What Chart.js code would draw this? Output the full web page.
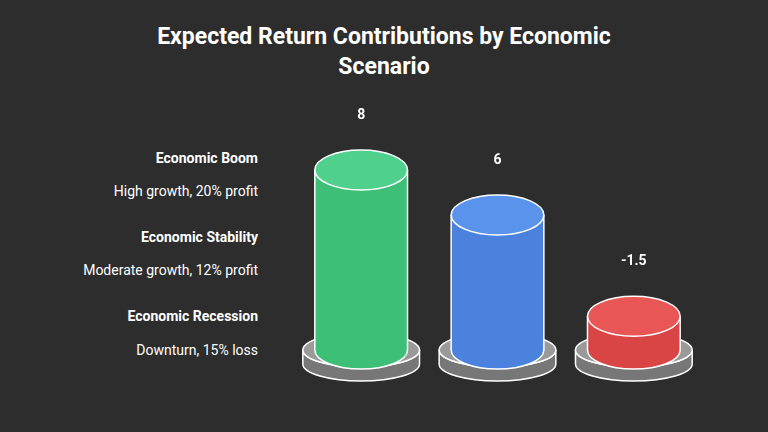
<!DOCTYPE html>
<html lang="en">
<head>
<meta charset="UTF-8">
<title>Expected Return Contributions</title>
<style>
  body { margin: 0; background: #2d2d2d; font-family: Roboto, sans-serif; }
  .wrap { position: relative; width: 768px; height: 432px; }
  h1 { position: absolute; top: 22px; left: 0; width: 768px; margin: 0; text-align: center;
       color: #fff; font-size: 23px; font-weight: 700; line-height: 30px; }
  .side { position: absolute; right: 510px; text-align: right; color: #fff; font-size: 14px; white-space: nowrap; }
  .side b { font-weight: 700; }
  canvas { position: absolute; left: 0; top: 0; }
</style>
</head>
<body>
<div class="wrap">
  <h1>Expected Return Contributions by Economic<br>Scenario</h1>
  <div class="side" style="top:150px"><b>Economic Boom</b></div>
  <div class="side" style="top:183px">High growth, 20% profit</div>
  <div class="side" style="top:229px"><b>Economic Stability</b></div>
  <div class="side" style="top:262px">Moderate growth, 12% profit</div>
  <div class="side" style="top:308px"><b>Economic Recession</b></div>
  <div class="side" style="top:342px">Downturn, 15% loss</div>
  <canvas id="c" width="768" height="432"></canvas>
</div>
<script src="https://cdn.jsdelivr.net/npm/chart.js@4.4.0/dist/chart.umd.min.js"></script>
<script>
const scenarios = ['Economic Boom', 'Economic Stability', 'Economic Recession'];
const contributions = [8, 6, -1.5];
const sideColors = ['#3dbf78', '#4a82de', '#d94444'];
const topColors = ['#4fd08c', '#5a93ec', '#e85656'];

const cylinders = {
  id: 'cylinders',
  beforeDatasetsDraw(chart) {
    const ctx = chart.ctx;
    chart.getDatasetMeta(0).data.forEach((bar, i) => {
      const rx = bar.width / 2, ry = 19, base = bar.base;
      // gray pedestal
      const prx = rx + 12, pry = 17;
      ctx.save();
      ctx.strokeStyle = '#ffffff'; ctx.lineWidth = 1.5;
      ctx.fillStyle = '#777777';
      ctx.beginPath();
      ctx.ellipse(bar.x, base + 14, prx, pry, 0, 0, Math.PI);
      ctx.lineTo(bar.x - prx, base);
      ctx.ellipse(bar.x, base, prx, pry, 0, Math.PI, 0, true);
      ctx.closePath(); ctx.fill(); ctx.stroke();
      ctx.fillStyle = '#9a9a9a';
      ctx.beginPath(); ctx.ellipse(bar.x, base, prx, pry, 0, 0, Math.PI * 2); ctx.fill(); ctx.stroke();
      // bar bottom
      ctx.fillStyle = sideColors[i];
      ctx.beginPath(); ctx.ellipse(bar.x, base, rx, ry, 0, 0, Math.PI); ctx.fill();
      ctx.beginPath(); ctx.ellipse(bar.x, base, rx, ry, 0, 0, Math.PI); ctx.stroke();
      ctx.restore();
    });
  },
  afterDatasetsDraw(chart) {
    const ctx = chart.ctx;
    chart.getDatasetMeta(0).data.forEach((bar, i) => {
      const rx = bar.width / 2, ry = 20;
      ctx.save();
      ctx.strokeStyle = '#ffffff'; ctx.lineWidth = 1.5;
      ctx.beginPath();
      ctx.moveTo(bar.x - rx, bar.y); ctx.lineTo(bar.x - rx, bar.base);
      ctx.moveTo(bar.x + rx, bar.y); ctx.lineTo(bar.x + rx, bar.base);
      ctx.stroke();
      ctx.fillStyle = topColors[i];
      ctx.beginPath(); ctx.ellipse(bar.x, bar.y, rx, ry, 0, 0, Math.PI * 2); ctx.fill(); ctx.stroke();
      ctx.fillStyle = '#ffffff';
      ctx.font = 'bold 14px Roboto';
      ctx.textAlign = 'center'; ctx.textBaseline = 'middle';
      ctx.fillText(String(contributions[i]), bar.x, bar.y - 55);
      ctx.restore();
    });
  }
};

new Chart(document.getElementById('c'), {
  type: 'bar',
  data: {
    labels: scenarios,
    datasets: [{
      data: contributions.map(Math.abs),
      backgroundColor: sideColors,
      borderWidth: 0,
      categoryPercentage: 1,
      barPercentage: 0.68
    }]
  },
  options: {
    responsive: false,
    animation: false,
    layout: { padding: { left: 293, right: 66, top: 170, bottom: 82 } },
    plugins: { legend: { display: false }, tooltip: { enabled: false } },
    scales: {
      x: { display: false },
      y: { display: false, min: 0, max: 8 }
    }
  },
  plugins: [cylinders]
});
</script>
</body>
</html>
